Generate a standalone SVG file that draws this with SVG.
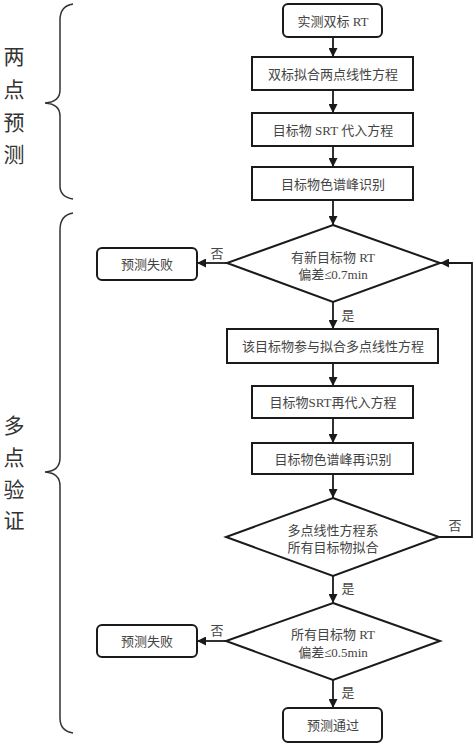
<svg xmlns="http://www.w3.org/2000/svg" width="474" height="745" viewBox="0 0 474 745">
<style>
.box{fill:#fff;stroke:#1a1a1a;stroke-width:2}
.t{font-family:"Liberation Serif","Noto Sans CJK SC",serif;font-size:13px;fill:#444;text-anchor:middle;dominant-baseline:central}
.side{font-family:"Noto Sans CJK SC",sans-serif;font-size:21px;fill:#333;text-anchor:middle;dominant-baseline:central}
.ln{fill:none;stroke:#1a1a1a;stroke-width:1.8}
.br{fill:none;stroke:#333;stroke-width:1.5}
</style>
<defs>
<marker id="ah" viewBox="0 0 10 10" refX="10" refY="5" markerWidth="5" markerHeight="5" orient="auto" markerUnits="strokeWidth">
<path d="M0,0 L10,5 L0,10 Z" fill="#1a1a1a"/>
</marker>
</defs>
<rect width="474" height="745" fill="#fff"/>
<g id="braces">
<path class="br" d="M73,4 Q60,6 60,20 L60,90 Q60,102 45,103 Q60,104 60,116 L60,186 Q60,197 73,199"/>
<path class="br" d="M73,213 Q60,215 60,230 L60,458 Q60,471 45,472 Q60,473 60,486 L60,718 Q60,731 73,733"/>
<text class="side" x="14" y="55">两</text>
<text class="side" x="14" y="88">点</text>
<text class="side" x="14" y="121">预</text>
<text class="side" x="14" y="153">测</text>
<text class="side" x="14" y="424">多</text>
<text class="side" x="14" y="456">点</text>
<text class="side" x="14" y="488">验</text>
<text class="side" x="14" y="519">证</text>
</g>
<g id="connectors">
<path class="ln" marker-end="url(#ah)" d="M333,37 L333,57"/>
<path class="ln" marker-end="url(#ah)" d="M333,90 L333,113"/>
<path class="ln" marker-end="url(#ah)" d="M333,146 L333,167"/>
<path class="ln" marker-end="url(#ah)" d="M333,200 L333,225"/>
<path class="ln" marker-end="url(#ah)" d="M227,263 L197,263"/>
<path class="ln" marker-end="url(#ah)" d="M333,302 L333,329"/>
<path class="ln" marker-end="url(#ah)" d="M333,363 L333,386"/>
<path class="ln" marker-end="url(#ah)" d="M333,418 L333,443"/>
<path class="ln" marker-end="url(#ah)" d="M333,474 L333,498"/>
<path class="ln" marker-end="url(#ah)" d="M439,537 L472,537 L472,263 L440,263"/>
<path class="ln" marker-end="url(#ah)" d="M333,576 L333,603"/>
<path class="ln" marker-end="url(#ah)" d="M226,641 L197,641"/>
<path class="ln" marker-end="url(#ah)" d="M333,680 L333,708"/>
<text class="t" x="217" y="253">否</text>
<text class="t" x="348" y="315">是</text>
<text class="t" x="455" y="525">否</text>
<text class="t" x="348" y="588">是</text>
<text class="t" x="217" y="630">否</text>
<text class="t" x="348" y="692">是</text>
</g>
<g id="n1"><rect class="box" x="283" y="4" width="99" height="33" rx="5"/><text class="t" x="333" y="21">实测双标 RT</text></g>
<g id="n2"><rect class="box" x="252" y="57" width="161" height="33"/><text class="t" x="333" y="74">双标拟合两点线性方程</text></g>
<g id="n3"><rect class="box" x="252" y="113" width="161" height="33"/><text class="t" x="333" y="130">目标物 SRT 代入方程</text></g>
<g id="n4"><rect class="box" x="252" y="167" width="161" height="33"/><text class="t" x="333" y="184">目标物色谱峰识别</text></g>
<g id="d1"><polygon class="box" points="333,225 440,263 333,302 227,263"/><text class="t" x="333" y="257">有新目标物 RT</text><text class="t" x="333" y="274">偏差≤0.7min</text></g>
<g id="f1"><rect class="box" x="97" y="248" width="100" height="32" rx="5"/><text class="t" x="147" y="264">预测失败</text></g>
<g id="n5"><rect class="box" x="227" y="329" width="211" height="34"/><text class="t" x="333" y="346">该目标物参与拟合多点线性方程</text></g>
<g id="n6"><rect class="box" x="252" y="386" width="161" height="32"/><text class="t" x="333" y="402">目标物SRT再代入方程</text></g>
<g id="n7"><rect class="box" x="252" y="443" width="161" height="31"/><text class="t" x="333" y="459">目标物色谱峰再识别</text></g>
<g id="d2"><polygon class="box" points="333,498 439,537 333,576 226,537"/><text class="t" x="333" y="530">多点线性方程系</text><text class="t" x="333" y="547">所有目标物拟合</text></g>
<g id="d3"><polygon class="box" points="333,603 440,641 333,680 226,641"/><text class="t" x="333" y="634">所有目标物 RT</text><text class="t" x="333" y="652">偏差≤0.5min</text></g>
<g id="f2"><rect class="box" x="97" y="625" width="100" height="32" rx="5"/><text class="t" x="147" y="641">预测失败</text></g>
<g id="n8"><rect class="box" x="283" y="708" width="99" height="34" rx="5"/><text class="t" x="333" y="725">预测通过</text></g>
</svg>
